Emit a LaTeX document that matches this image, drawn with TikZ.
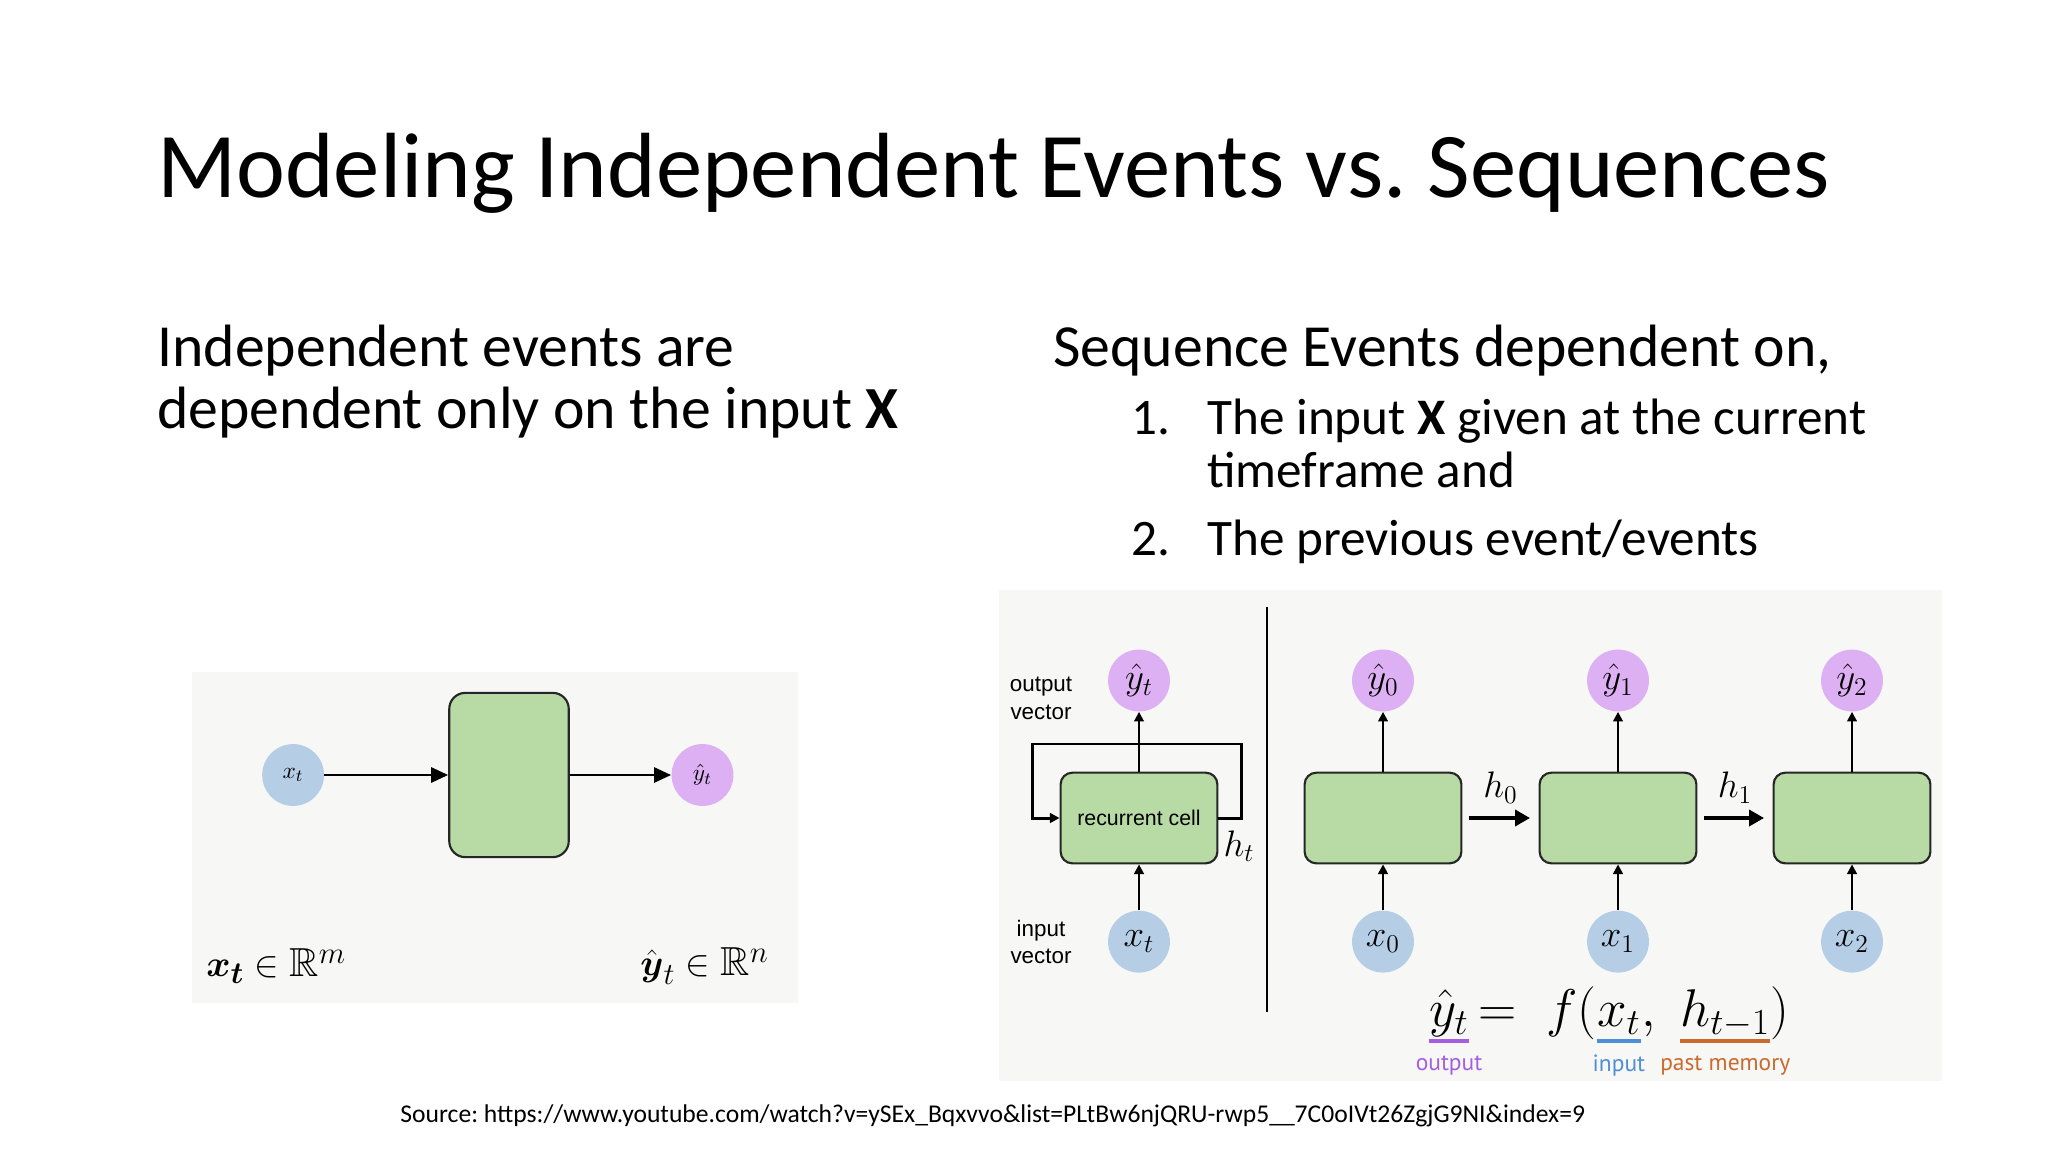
\documentclass[tikz,border=0pt]{standalone}
\usepackage{amsmath,amssymb}
\usepackage{fontspec}
\setmainfont{Carlito}
\newfontfamily\arial{Liberation Sans}
\newfontfamily\gill{PT Sans}
\usetikzlibrary{positioning,arrows.meta}
\definecolor{azulc}{HTML}{B5CEE6}
\definecolor{lilac}{HTML}{DCB0F2}
\definecolor{verdec}{HTML}{B8DBA6}
\definecolor{fondo}{HTML}{F7F7F6}
\definecolor{lila}{HTML}{A35FDF}
\definecolor{azul}{HTML}{4D8ED6}
\definecolor{naranja}{HTML}{CB6A2D}
\frenchspacing

\begin{document}
\begin{tikzpicture}[x=0.46875pt, y=-0.46875pt, node distance=0pt,
  entrada/.style={circle, fill=azulc, minimum size=29pt, inner sep=0pt},
  salida/.style={circle, fill=lilac, minimum size=29pt, inner sep=0pt},
  celda/.style={draw=black!85, line width=1pt, fill=verdec, rounded corners=5.5pt, minimum width=73.5pt, minimum height=42.5pt, inner sep=0pt},
  flecha/.style={line width=1.1pt, -{Triangle[length=4.5pt, width=4.5pt]}},
  flechah/.style={line width=1.6pt, -{Triangle[length=7pt, width=7.5pt]}, shorten <=3pt, shorten >=4pt},
  texto/.style={anchor=base west, inner sep=0pt, font=\fontsize{28}{28}\selectfont},
  item/.style={anchor=base west, inner sep=0pt, font=\fontsize{24}{24}\selectfont},
  mate/.style={inner sep=0pt, font=\fontsize{17}{17}\selectfont},
  ecua/.style={inner sep=0pt, font=\fontsize{24}{24}\selectfont},
  etiq/.style={inner sep=0pt, font=\gill\fontsize{11}{11}\selectfont},
  rotulo/.style={align=center, inner sep=0pt, font=\arial\fontsize{10.5}{13}\selectfont}]
  \fill[white] (0,0) rectangle (2048,1152);
  \node[anchor=base west, inner sep=0pt, font=\fontsize{43.4}{44}\selectfont] (titulo) at (157,198) {Modeling Independent Events vs. Sequences};
  \node[texto] (ind1) at (157,366) {Independent events are};
  \node[texto] (ind2) at (157,428) {dependent only on the input \textbf{X}};
  \node[texto] (seq) at (1053,366) {Sequence Events dependent on,};
  \node[item] (n1) at (1131,434) {1.};
  \node[item] (it1) at (1207,434) {The input \textbf{X} given at the current};
  \node[item] (it1b) at (1207,487) {timeframe and};
  \node[item] (n2) at (1131,555) {2.};
  \node[item] (it2) at (1207,555) {The previous event/events};

  \fill[fondo] (192,672) rectangle (798,1003);
  \node[draw=black!85, line width=1pt, fill=verdec, rounded corners=7.5pt, minimum width=56pt, minimum height=77pt] (red) at (509,775) {};
  \node[entrada, font=\fontsize{11}{11}\selectfont, left=58pt of red] (xin) {$x_t$};
  \node[salida, font=\fontsize{11}{11}\selectfont, right=47.5pt of red] (yout) {$\hat{y}_t$};
  \draw[line width=1.4pt, -{Triangle[length=8pt, width=7pt]}] (xin) -- (red);
  \draw[line width=1.4pt, -{Triangle[length=8pt, width=7pt]}] (red) -- (yout);
  \node[anchor=west, inner sep=0pt, font=\fontsize{19}{19}\selectfont] (dimx) at (206,966) {$\boldsymbol{x_t} \in \mathbb{R}^m$};
  \node[anchor=west, inner sep=0pt, font=\fontsize{19}{19}\selectfont] (dimy) at (640,966) {$\hat{\boldsymbol{y}}_t \in \mathbb{R}^n$};

  \fill[fondo] (999,590) rectangle (1942,1081);
  \node[celda, font=\arial\fontsize{10}{10}\selectfont] (rc) at (1139,818) {recurrent cell};
  \node[salida, mate, above=28pt of rc] (yt) {$\hat{y}_t$};
  \node[entrada, mate, below=21.5pt of rc] (xt) {$x_t$};
  \node[rotulo] (outv) at (1041,698) {output\\vector};
  \node[rotulo] (inv) at (1041,942) {input\\vector};
  \draw[flecha] (rc) -- (yt);
  \draw[flecha] (xt) -- (rc);
  \draw[line width=1.4pt, -{Triangle[length=4.5pt, width=4.5pt]}] (rc.east) -- ++(23,0) -- ++(0,-74) -- ++(-209,0) -- ++(0,74) -- (rc.west);
  \node[mate] (ht) at (1239,846) {$h_t$};
  \draw[line width=1.1pt] (1267,607) -- (1267,1012);
  \foreach \i/\x in {0/1383,1/1618,2/1852} {
    \node[celda] (c\i) at (\x,818) {};
    \node[salida, mate, above=28pt of c\i] (y\i) {$\hat{y}_\i$};
    \node[entrada, mate, below=21.5pt of c\i] (x\i) {$x_\i$};
    \draw[flecha] (c\i) -- (y\i);
    \draw[flecha] (x\i) -- (c\i);
  }
  \draw[flechah] (c0) -- node[mate, above=6pt] (h0) {$h_0$} (c1);
  \draw[flechah] (c1) -- node[mate, above=6pt] (h1) {$h_1$} (c2);

  \node[ecua] (ey) at (1449,1013) {$\hat{y}_t$};
  \node[ecua, base right=0pt of ey] (ef) {$\,=\;f($};
  \node[ecua, base right=0pt of ef] (ex) {$x_t$};
  \node[ecua, base right=0pt of ex] (ec) {$,\;\,$};
  \node[ecua, base right=0pt of ec] (eh) {$h_{t-1}$};
  \node[ecua, base right=0pt of eh] (ep) {$)$};
  \coordinate (lin) at (0,1041);
  \coordinate (etq) at (0,1066);
  \draw[lila, line width=1.6pt] (ey.west |- lin) -- (ey.east |- lin);
  \draw[azul, line width=1.6pt] (ex.west |- lin) -- (ex.east |- lin);
  \draw[naranja, line width=1.6pt] (eh.west |- lin) -- (eh.east |- lin);
  \node[etiq, text=lila] (lout) at (ey |- etq) {output};
  \node[etiq, text=azul] (lin2) at (ex |- etq) {input};
  \node[etiq, text=naranja] (lmem) at (eh |- etq) {past memory};

  \node[anchor=base west, inner sep=0pt, font=\fontsize{12}{12}\selectfont] (fuente) at (400,1122) {Source: https://www.youtube.com/watch?v=ySEx\_Bqxvvo\&list=PLtBw6njQRU-rwp5\_\_7C0oIVt26ZgjG9NI\&index=9};
\end{tikzpicture}
\end{document}
